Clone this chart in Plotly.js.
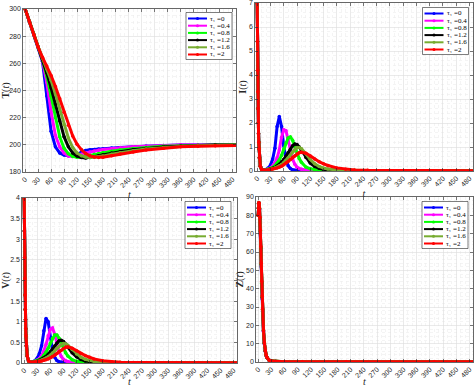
<!DOCTYPE html>
<html><head><meta charset="utf-8">
<script src="https://cdn.plot.ly/plotly-3.0.1.min.js"></script>
<style>html,body{margin:0;padding:0;background:#fff;}#chart{width:474px;height:387px;}</style>
</head><body><div id="chart"></div>
<script>
// ---------- data ----------
const tauValues = ['0','0.4','0.8','1.2','1.6','2'];

// T(t)
const tT = [0,10,20,30,40,50,60,70,80,90,100,110,120,130,140,150,160,170,180,200,220,250,280,320,360,400,440,490];
const T_tau0  = [300,290.5,281,272,261.5,236,210,198.5,194,192.5,192,192.2,193,194.5,195.8,196.3,196.6,196.9,197.1,197.6,198,198.6,199.1,199.5,199.8,199.9,200,200];
const T_tau04 = [300,290.5,281,272,262.5,246,224.5,207,198.5,194,191.8,191.5,192,193,194,194.8,195.5,196,196.5,197.2,197.8,198.5,199,199.5,199.8,199.9,200,200];
const T_tau08 = [300,290.5,281,272,263,250.5,236,220,206,197.5,193.5,191.5,190.8,190.8,191.5,192.3,193,193.7,194.3,195.3,196.2,197.3,198.1,198.9,199.4,199.7,199.9,200];
const T_tau12 = [300,290.5,281,272,263.5,253,242,230,217.5,206,198.5,194,191.7,190.6,190.3,190.6,191.3,192,192.7,194,195,196.3,197.4,198.4,199,199.5,199.8,199.9];
const T_tau16 = [300,290.5,281,272,264,256,247.5,237.5,226.5,215,205,198,194,192,191,190.6,190.8,191.2,191.7,193,194.2,195.7,196.9,198,198.8,199.3,199.6,199.8];
const T_tau2  = [300,290.5,281,272,264.5,258,251,243,234,224,214.5,206.5,200.5,196.5,193.6,191.9,191,190.7,190.9,192,193.2,194.8,196.2,197.5,198.5,199,199.4,199.6];

// I(t)
const tI = [0,0.5,1,1.5,2,2.5,3,3.5,4,5,7,10,15,20,25,30,35,40,45,50,55,60,65,70,75,80,85,90,95,100,110,120,130,140,150,160,180,200,220,250,300,350,400,450,490];
const I_tau0  = [7,5.4,4.2,3.3,2.6,2.0,1.55,1.2,0.93,0.55,0.2,0.06,0.03,0.06,0.12,0.25,0.5,0.95,1.85,2.27,1.85,1.05,0.5,0.22,0.1,0.05,0.03,0.02,0.015,0.012,0.01,0.01,0.01,0.01,0.01,0.01,0.01,0.01,0.01,0.01,0.01,0.01,0.01,0.01,0.01];
const I_tau04 = [7,5.4,4.2,3.3,2.6,2.0,1.55,1.2,0.93,0.55,0.2,0.06,0.03,0.05,0.08,0.13,0.21,0.34,0.55,0.88,1.4,1.72,1.68,1.3,0.85,0.5,0.28,0.16,0.1,0.07,0.04,0.03,0.02,0.018,0.015,0.013,0.012,0.01,0.01,0.01,0.01,0.01,0.01,0.01,0.01];
const I_tau08 = [7,5.4,4.2,3.3,2.6,2.0,1.55,1.2,0.93,0.55,0.2,0.06,0.03,0.045,0.07,0.1,0.15,0.22,0.32,0.46,0.65,0.9,1.17,1.38,1.42,1.28,1.02,0.75,0.52,0.36,0.17,0.09,0.055,0.04,0.03,0.025,0.018,0.014,0.012,0.01,0.01,0.01,0.01,0.01,0.01];
const I_tau12 = [7,5.4,4.2,3.3,2.6,2.0,1.55,1.2,0.93,0.55,0.2,0.06,0.03,0.04,0.055,0.08,0.11,0.15,0.21,0.28,0.37,0.48,0.61,0.76,0.91,1.05,1.12,1.1,1.0,0.86,0.56,0.33,0.19,0.11,0.07,0.05,0.03,0.022,0.017,0.013,0.011,0.01,0.01,0.01,0.01];
const I_tau16 = [7,5.4,4.2,3.3,2.6,2.0,1.55,1.2,0.93,0.55,0.2,0.06,0.03,0.038,0.05,0.067,0.09,0.12,0.16,0.21,0.27,0.35,0.44,0.54,0.66,0.78,0.9,0.98,0.98,0.93,0.72,0.48,0.3,0.19,0.12,0.08,0.045,0.03,0.022,0.016,0.012,0.011,0.01,0.01,0.01];
const I_tau2  = [7,5.4,4.2,3.3,2.6,2.0,1.55,1.2,0.93,0.55,0.2,0.06,0.03,0.035,0.045,0.06,0.08,0.1,0.13,0.16,0.2,0.26,0.33,0.4,0.48,0.56,0.64,0.71,0.76,0.78,0.74,0.63,0.5,0.39,0.3,0.23,0.13,0.075,0.045,0.028,0.018,0.014,0.012,0.011,0.01];

// V(t)
const tV = [0,0.5,1,1.5,2,2.5,3,3.5,4,5,7,10,15,20,25,30,35,40,45,50,55,60,65,70,75,80,85,90,95,100,110,120,130,140,150,160,180,200,220,250,300,350,400,450,490];
const V_tau0  = [4,3.2,2.55,2.05,1.65,1.3,1.05,0.83,0.66,0.42,0.17,0.05,0.02,0.03,0.06,0.12,0.23,0.42,0.78,1.08,1.0,0.62,0.3,0.14,0.06,0.03,0.02,0.01,0.01,0.008,0.006,0.005,0.005,0.005,0.005,0.005,0.005,0.005,0.005,0.005,0.005,0.005,0.005,0.005,0.005];
const V_tau04 = [4,3.2,2.55,2.05,1.65,1.3,1.05,0.83,0.66,0.42,0.17,0.05,0.02,0.03,0.04,0.07,0.11,0.18,0.29,0.45,0.66,0.82,0.85,0.7,0.47,0.28,0.16,0.09,0.055,0.035,0.02,0.015,0.01,0.008,0.007,0.006,0.005,0.005,0.005,0.005,0.005,0.005,0.005,0.005,0.005];
const V_tau08 = [4,3.2,2.55,2.05,1.65,1.3,1.05,0.83,0.66,0.42,0.17,0.05,0.02,0.025,0.04,0.055,0.085,0.12,0.18,0.26,0.36,0.48,0.6,0.68,0.68,0.6,0.48,0.35,0.25,0.17,0.08,0.04,0.025,0.018,0.013,0.01,0.008,0.006,0.005,0.005,0.005,0.005,0.005,0.005,0.005];
const V_tau12 = [4,3.2,2.55,2.05,1.65,1.3,1.05,0.83,0.66,0.42,0.17,0.05,0.02,0.022,0.03,0.045,0.065,0.09,0.12,0.16,0.21,0.27,0.34,0.41,0.48,0.54,0.55,0.52,0.46,0.39,0.25,0.15,0.085,0.05,0.032,0.022,0.014,0.01,0.008,0.006,0.005,0.005,0.005,0.005,0.005];
const V_tau16 = [4,3.2,2.55,2.05,1.65,1.3,1.05,0.83,0.66,0.42,0.17,0.05,0.02,0.02,0.027,0.035,0.05,0.07,0.09,0.12,0.15,0.19,0.24,0.29,0.35,0.4,0.45,0.47,0.46,0.43,0.33,0.22,0.14,0.09,0.06,0.04,0.022,0.015,0.01,0.008,0.006,0.005,0.005,0.005,0.005];
const V_tau2  = [4,3.2,2.55,2.05,1.65,1.3,1.05,0.83,0.66,0.42,0.17,0.05,0.02,0.02,0.023,0.03,0.04,0.05,0.065,0.08,0.1,0.125,0.155,0.19,0.23,0.27,0.31,0.35,0.38,0.39,0.36,0.3,0.23,0.18,0.14,0.1,0.055,0.032,0.02,0.013,0.008,0.006,0.005,0.005,0.005];

// Z(t)
const tZ = [0,0.5,1,1.5,2,3,4,5,6,7,8,9,10,12,14,16,18,20,25,30,40,60,100,200,300,400,490];
const Z_tau0  = [80,83.8,86.2,86.6,86,83,77.5,70,61,52,42,34.5,27.5,16.5,9.8,5.8,3.5,2.3,0.9,0.45,0.25,0.15,0.15,0.15,0.15,0.15,0.15];
const Z_tau04 = [80,83.9,86.3,86.7,86.2,83.3,78,70.7,61.7,52.7,42.7,35,28,16.8,10,5.9,3.6,2.4,0.95,0.47,0.27,0.17,0.17,0.17,0.17,0.17,0.17];
const Z_tau08 = [80,83.9,86.4,86.8,86.3,83.5,78.3,71,62,53,43,35.3,28.3,17,10.2,6,3.65,2.4,0.95,0.48,0.28,0.18,0.18,0.18,0.18,0.18,0.18];
const Z_tau12 = [80,84,86.4,86.9,86.4,83.7,78.6,71.5,62.4,53.4,43.4,35.6,28.6,17.2,10.3,6.1,3.7,2.45,0.97,0.49,0.29,0.19,0.19,0.19,0.19,0.19,0.19];
const Z_tau16 = [80,84,86.5,86.9,86.5,83.9,78.8,71.8,62.7,53.7,43.7,35.8,28.8,17.4,10.4,6.15,3.75,2.48,0.98,0.5,0.3,0.2,0.2,0.2,0.2,0.2,0.2];
const Z_tau2  = [80,84,86.5,87,86.5,84,79,72,63,54,44,36,29,17.5,10.5,6.2,3.8,2.5,1.0,0.5,0.3,0.2,0.2,0.2,0.2,0.2,0.2];

// ---------- styles ----------
const colors = ['#0000FF','#FF00FF','#00FF00','#000000','#77AC30','#FF0000'];
const tauPrefix = '\u03C4\u2081 =';

function makeTraces(t, series, xa, ya) {
  return series.map((y, i) => ({
    type: 'scatter', mode: 'lines+markers',
    x: t, y: y, xaxis: xa, yaxis: ya, showlegend: false,
    name: tauPrefix + tauValues[i],
    line: {color: colors[i], width: 3},
    marker: {color: colors[i], size: 3.5},
    hoverinfo: 'skip'
  }));
}

const data = [].concat(
  makeTraces(tT, [T_tau0,T_tau04,T_tau08,T_tau12,T_tau16,T_tau2], 'x', 'y'),
  makeTraces(tI, [I_tau0,I_tau04,I_tau08,I_tau12,I_tau16,I_tau2], 'x2', 'y2'),
  makeTraces(tV, [V_tau0,V_tau04,V_tau08,V_tau12,V_tau16,V_tau2], 'x3', 'y3'),
  makeTraces(tZ, [Z_tau0,Z_tau04,Z_tau08,Z_tau12,Z_tau16,Z_tau2], 'x4', 'y4')
);

const W = 474, H = 387;
const axisCol = '#262626';
const serif = 'Liberation Serif, DejaVu Serif, Times New Roman, serif';
const tickFont = {family: 'Liberation Sans, Arial, sans-serif', size: 7, color: axisCol};
const titleFont = {family: serif, size: 10, color: axisCol};

function xAxis(x0, x1, anchor) {
  return {
    domain: [x0 / W, x1 / W], anchor: anchor,
    range: [-5, 488], tick0: 0, dtick: 30, tickangle: -45,
    ticks: 'inside', ticklen: 3, tickwidth: 0.6, tickcolor: axisCol,
    showline: true, linecolor: axisCol, linewidth: 0.7, mirror: 'ticks',
    showgrid: true, gridcolor: '#dcdcdc', gridwidth: 0.6, zeroline: false,
    minor: {dtick: 10, showgrid: true, gridcolor: '#ececec', griddash: 'dot', gridwidth: 0.6, ticks: ''},
    tickfont: tickFont, ticklabeloverflow: 'allow',
    title: {text: '<i>t</i>', font: titleFont, standoff: 0},
    automargin: false
  };
}
function yAxis(y0, y1, anchor, range, dtick, minorDtick, title) {
  return {
    domain: [1 - y1 / H, 1 - y0 / H], anchor: anchor,
    range: range, dtick: dtick,
    ticks: 'inside', ticklen: 3, tickwidth: 0.6, tickcolor: axisCol,
    showline: true, linecolor: axisCol, linewidth: 0.7, mirror: 'ticks',
    showgrid: true, gridcolor: '#dcdcdc', gridwidth: 0.6, zeroline: false,
    minor: {dtick: minorDtick, showgrid: true, gridcolor: '#ececec', griddash: 'dot', gridwidth: 0.6, ticks: ''},
    tickfont: tickFont, ticklabeloverflow: 'allow',
    title: {text: title, font: titleFont, standoff: 0},
    automargin: false
  };
}

// compact legend box (drawn with shapes + annotations), position in px
const shapes = [], annotations = [];
function buildLegend(left, top) {
  const w = 46, h = 47, firstRow = 6, rowH = 7.2;
  shapes.push({type: 'rect', xref: 'paper', yref: 'paper', layer: 'above',
    x0: left / W, x1: (left + w) / W, y0: 1 - (top + h) / H, y1: 1 - top / H,
    line: {color: axisCol, width: 0.6}, fillcolor: '#ffffff'});
  tauValues.forEach((tv, i) => {
    const yy = top + firstRow + i * rowH;
    shapes.push({type: 'line', xref: 'paper', yref: 'paper', layer: 'above',
      x0: (left + 2) / W, x1: (left + 21) / W, y0: 1 - yy / H, y1: 1 - yy / H,
      line: {color: colors[i], width: 2}});
    shapes.push({type: 'circle', xref: 'paper', yref: 'paper', layer: 'above',
      x0: (left + 10) / W, x1: (left + 13) / W, y0: 1 - (yy + 1.5) / H, y1: 1 - (yy - 1.5) / H,
      fillcolor: colors[i], line: {width: 0}});
    annotations.push({xref: 'paper', yref: 'paper', x: (left + 22) / W, y: 1 - yy / H,
      xanchor: 'left', yanchor: 'middle', showarrow: false,
      text: tauPrefix + tv,
      font: {family: serif, size: 7, color: '#000000'}});
  });
}
buildLegend(186, 12.5);
buildLegend(422.5, 7.5);
buildLegend(185, 201.5);
buildLegend(422, 201.5);

const layout = {
  width: W, height: H,
  margin: {l: 0, r: 0, t: 0, b: 0},
  paper_bgcolor: '#ffffff', plot_bgcolor: '#ffffff',
  showlegend: false,
  xaxis:  xAxis(23, 236, 'y'),
  yaxis:  yAxis(9, 172, 'x', [180, 300], 20, 5, '<b>T</b>(<i>t</i>)'),
  xaxis2: xAxis(255, 473, 'y2'),
  yaxis2: yAxis(3, 171, 'x2', [0, 7], 1, 0.2, '<b>I</b>(<i>t</i>)'),
  xaxis3: xAxis(22, 237, 'y3'),
  yaxis3: yAxis(198, 363, 'x3', [0, 4], 0.5, 0.1, '<b>V</b>(<i>t</i>)'),
  xaxis4: xAxis(256, 473, 'y4'),
  yaxis4: yAxis(197, 362, 'x4', [0, 90], 10, 2, '<b>Z</b>(<i>t</i>)'),
  shapes: shapes,
  annotations: annotations
};

Plotly.newPlot('chart', data, layout, {staticPlot: true, displayModeBar: false});
</script>
</body></html>
